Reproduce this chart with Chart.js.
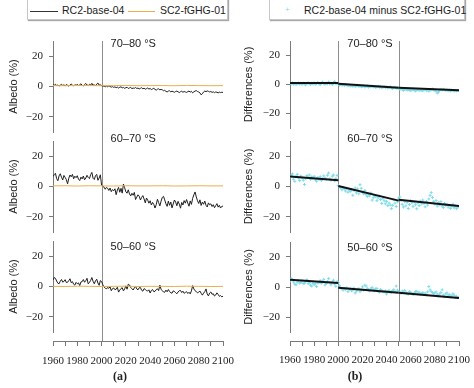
<!DOCTYPE html>
<html lang="en">
<head>
  <meta charset="UTF-8" />
  <title>Albedo - RC2-base-04 vs SC2-fGHG-01</title>
  <script src="https://cdn.jsdelivr.net/npm/chart.js"></script>
  <style>
    body {
      margin: 0;
      background: #fff;
      font-family: "Liberation Sans", Arial, sans-serif;
      color: #222;
    }

    #fig {
      position: relative;
      width: 474px;
      height: 388px;
      overflow: hidden;
    }

    #fig canvas, .legend, .tag {
      position: absolute;
    }

    .legend {
      top: -2px;
      height: 20px;
      border: 1px solid #c6c6c6;
      box-shadow: 1px 1px 1px #a8a8a8;
      font-size: 10.5px;
      line-height: 13px;
    }

    .legend span {
      position: absolute;
      top: 5px;
      white-space: nowrap;
    }

    .legend i {
      position: absolute;
      top: 12px;
      height: 0;
      border-top: 1px solid;
    }

    .tag {
      top: 369px;
      width: 40px;
      text-align: center;
      font: bold 12px "Liberation Serif", serif;
    }
  </style>
</head>
<body>
  <div id="fig">
    <div class="legend" style="left:27px; width:199px;">
      <i style="left:2px; width:28px; border-color:#333;"></i>
      <span style="left:34px;">RC2-base-04</span>
      <i style="left:100px; width:27px; border-color:#e8b04c;"></i>
      <span style="left:132px;">SC2-fGHG-01</span>
    </div>
    <div class="legend" style="left:269px; width:194px;">
      <span style="left:15px; top:4px; color:#7fdcea; font-size:8px;">+</span>
      <span style="left:34px;">RC2-base-04 minus SC2-fGHG-01</span>
    </div>

    <canvas id="a1" width="234" height="111" style="left:0; top:22px;"></canvas>
    <canvas id="a2" width="234" height="104" style="left:0; top:133px;"></canvas>
    <canvas id="a3" width="234" height="151" style="left:0; top:237px;"></canvas>
    <canvas id="b1" width="240" height="111" style="left:234px; top:22px;"></canvas>
    <canvas id="b2" width="240" height="104" style="left:234px; top:133px;"></canvas>
    <canvas id="b3" width="240" height="151" style="left:234px; top:237px;"></canvas>

    <div class="tag" style="left:100px;">(a)</div>
    <div class="tag" style="left:335px;">(b)</div>
  </div>

  <script>
    // anos 1960..2100, um valor por ano
    const years = Array.from({ length: 141 }, (_, i) => 1960 + i);
    const xTicks = [1960, 1970, 1980, 1990, 2000, 2010, 2020, 2030, 2040, 2050, 2060, 2070, 2080, 2090, 2100];
    const xLabels = [1960, 1980, 2000, 2020, 2040, 2060, 2080, 2100];
    const yTicks = [-20, 0, 20];
    const regions = ['70\u201380 \u00b0S', '60\u201370 \u00b0S', '50\u201360 \u00b0S'];

    // RC2-base-04 (anomalia de albedo, %)
    const rc2_70_80 = [
      1.2, 0.8, 1.5, 0.6, 1.0, 0.3, 0.9, 1.4, 0.7, 1.1,
      0.5, 1.3, 0.8, 0.2, 1.0, 1.6, 0.9, 0.4, 1.2, 0.7,
      1.5, 0.6, 1.1, 1.8, 0.8, 0.3, 1.3, 2.0, 1.0, 0.6,
      1.4, 0.9, 2.1, 0.8, 1.2, 0.4, 1.6, 2.3, 0.9, 1.1,
      0.6, 0.1, 0.4, -0.2, 0.3, -0.3, 0.5, 0.0, -0.4, -0.1,
      -0.6, -0.2, -0.8, -0.4, -1.0, -0.5, -0.2, -0.9, -0.6, -1.2,
      -0.8, -0.5, -1.3, -0.9, -0.6, -1.4, -1.0, -1.2, -0.7, -1.3,
      -1.0, -1.6, -1.2, -0.8, -1.5, -1.1, -1.8, -1.4, -1.0, -1.7,
      -1.3, -2.0, -1.6, -1.2, -1.9, -2.4, -1.8, -1.5, -2.2, -1.9,
      -2.2, -2.8, -2.5, -3.2, -3.6, -3.0, -2.8, -3.5, -3.1, -3.4,
      -3.8, -3.3, -3.0, -3.5, -4.0, -3.4, -3.1, -3.8, -3.3, -3.6,
      -3.9, -3.4, -3.0, -3.7, -3.2, -4.2, -3.5, -3.0, -2.7, -3.3,
      -3.6, -4.2, -5.5, -4.8, -3.6, -3.0, -3.4, -2.9, -3.2, -3.6,
      -3.3, -3.9, -3.5, -4.1, -3.6, -3.8, -4.2, -3.7, -4.0, -3.8,
      -3.9
    ];
    const rc2_60_70 = [
      6.5, 7.8, 8.7, 5.2, 3.8, 7.0, 8.4, 6.1, 4.3, 7.3,
      6.0, 4.5, 1.7, 5.5, 7.6, 6.4, 8.0, 5.1, 6.8, 5.8,
      7.1, 4.8, 3.9, 6.2, 5.0, 6.9, 4.4, 5.6, 7.4, 6.0,
      5.2, 7.8, 9.3, 5.4, 4.6, 7.2, 8.0, 4.1, 5.6, 7.7,
      1.0, 0.2, -0.4, -1.8, -0.6, -1.2, -2.6, -1.0, -3.4, -2.0,
      -2.8, -1.5, -5.4, -2.3, -0.6, -3.8, -1.2, -4.4, 1.6, -0.8,
      -3.5, -4.4, -2.2, -4.9, -6.2, -4.5, -5.8, -3.9, -8.6, -7.0,
      -5.5, -6.4, -8.9, -7.2, -6.0, -8.2, -10.8, -7.6, -9.0, -11.0,
      -9.4, -12.2, -10.5, -11.8, -14.2, -12.0, -8.4, -10.6, -12.8, -9.7,
      -7.2, -6.5, -8.8, -11.4, -13.1, -9.6, -12.4, -10.2, -14.1, -11.5,
      -8.9, -10.3, -12.7, -9.8, -11.6, -14.3, -10.5, -12.2, -9.3, -11.0,
      -8.6, -10.9, -13.0, -9.5, -11.8, -7.8, -5.5, -3.6, -6.9, -9.4,
      -11.2, -8.8, -12.5, -10.3, -11.7, -9.6, -12.4, -13.5, -10.8, -12.1,
      -11.4, -13.2, -12.0, -14.0, -12.6, -11.3, -13.6, -12.4, -14.2, -13.1,
      -12.9
    ];
    const rc2_50_60 = [
      4.3, 5.9, 5.4, 3.6, 2.2, 1.8, 3.5, 4.6, 2.9, 3.3,
      4.5, 2.6, 2.8, 3.9, 5.1, 2.5, 3.2, 1.5, 0.9, 2.7,
      1.8, 2.4, 0.6, 3.0, 3.2, 4.6, 2.8, 3.9, 5.4, 1.7,
      2.6, 4.0, 5.9, 3.4, 1.8, 3.7, 4.8, 2.3, 0.8, 3.9,
      3.3, 1.2, -0.3, -0.9, -1.7, -0.6, -1.2, -0.2, -2.8, -1.4,
      -1.0, -2.1, -1.8, -0.5, -3.7, -2.4, -1.3, -0.8, -2.9, -1.6,
      0.4, -1.8, 1.5, 1.0, -0.6, -1.5, -2.3, -0.9, 0.0, -1.6,
      -2.2, -0.8, -0.7, -2.5, -3.1, -1.4, -1.9, -2.8, -3.0, -2.2,
      -4.3, -2.6, -2.0, -3.4, -3.2, -2.1, -1.5, -2.7, 0.9, -1.8,
      -2.8, -3.6, -3.8, -2.4, -3.5, -2.0, -3.3, -4.2, -4.4, -2.9,
      -3.2, -4.1, -4.8, -3.6, -2.8, -2.6, -4.0, -3.1, -4.5, -3.9,
      -3.4, -4.6, -3.8, -4.9, -2.9, 0.6, -1.6, -2.8, -3.4, -4.1,
      -3.7, -3.0, -4.5, -5.7, -4.4, -3.4, -1.6, -5.0, -6.2, -4.3,
      -3.6, -5.1, -4.8, -6.3, -5.6, -4.2, -5.2, -6.5, -6.0, -6.8,
      -6.4
    ];

    // SC2-fGHG-01, lido a cada 10 anos
    const sc2Years = [1960, 1970, 1980, 1990, 2000, 2010, 2020, 2030, 2040, 2050, 2060, 2070, 2080, 2090, 2100];
    const sc2_70_80 = [0.6, 0.5, 0.7, 0.6, 0.5, 0.6, 0.7, 0.5, 0.6, 0.6, 0.5, 0.7, 0.6, 0.5, 0.6];
    const sc2_60_70 = [0.4, 0.5, 0.3, 0.5, 0.4, 0.3, 0.5, 0.4, 0.4, 0.5, 0.3, 0.4, 0.5, 0.4, 0.4];
    const sc2_50_60 = [0.1, 0.0, 0.2, 0.1, 0.0, 0.1, 0.2, 0.0, 0.1, 0.1, 0.0, 0.2, 0.1, 0.0, 0.1];

    // RC2-base-04 minus SC2-fGHG-01 (pontos anuais)
    const dif_70_80 = [
      0.8, 0.4, 1.1, 0.2, 0.6, -0.1, 0.5, 1.0, 0.3, 0.7,
      0.1, 0.9, 0.4, -0.2, 0.6, 1.2, 0.5, 0.0, 0.8, 0.3,
      1.1, 0.2, 0.7, 1.4, 0.4, -0.1, 0.9, 1.6, 0.6, 0.2,
      1.0, 0.5, 1.7, 0.4, 0.8, 0.0, 1.2, 1.9, 0.5, 0.7,
      0.2, -0.3, 0.0, -0.6, -0.1, -0.7, 0.1, -0.4, -0.8, -0.5,
      -1.0, -0.6, -1.2, -0.8, -1.4, -0.9, -0.6, -1.3, -1.0, -1.6,
      -1.2, -0.9, -1.7, -1.3, -1.0, -1.8, -1.4, -1.6, -1.1, -1.7,
      -1.4, -2.0, -1.6, -1.2, -1.9, -1.5, -2.2, -1.8, -1.4, -2.1,
      -1.7, -2.4, -2.0, -1.6, -2.3, -2.8, -2.2, -1.9, -2.6, -2.3,
      -2.6, -3.2, -2.9, -3.6, -4.0, -3.4, -3.2, -3.9, -3.5, -3.8,
      -4.2, -3.7, -3.4, -3.9, -4.4, -3.8, -3.5, -4.2, -3.7, -4.0,
      -4.3, -3.8, -3.4, -4.1, -3.6, -4.6, -3.9, -3.4, -3.1, -3.7,
      -4.0, -4.6, -5.9, -5.2, -4.0, -3.4, -3.8, -3.3, -3.6, -4.0,
      -3.7, -4.3, -3.9, -4.5, -4.0, -4.2, -4.6, -4.1, -4.4, -4.2,
      -4.3
    ];
    const dif_60_70 = [
      6.1, 7.4, 8.3, 4.8, 3.4, 6.6, 8.0, 5.7, 3.9, 6.9,
      5.6, 4.1, 1.3, 5.1, 7.2, 6.0, 7.6, 4.7, 6.4, 5.4,
      6.7, 4.4, 3.5, 5.8, 4.6, 6.5, 4.0, 5.2, 7.0, 5.6,
      4.8, 7.4, 8.9, 5.0, 4.2, 6.8, 7.6, 3.7, 5.2, 7.3,
      0.6, -0.2, -0.8, -2.2, -1.0, -1.6, -3.0, -1.4, -3.8, -2.4,
      -3.2, -1.9, -5.8, -2.7, -1.0, -4.2, -1.6, -4.8, 1.2, -1.2,
      -3.9, -4.8, -2.6, -5.3, -6.6, -4.9, -6.2, -4.3, -9.0, -7.4,
      -5.9, -6.8, -9.3, -7.6, -6.4, -8.6, -11.2, -8.0, -9.4, -11.4,
      -9.8, -12.6, -10.9, -12.2, -14.6, -12.4, -8.8, -11.0, -13.2, -10.1,
      -7.6, -6.9, -9.2, -11.8, -13.5, -10.0, -12.8, -10.6, -14.5, -11.9,
      -9.3, -10.7, -13.1, -10.2, -12.0, -14.7, -10.9, -12.6, -9.7, -11.4,
      -9.0, -11.3, -13.4, -9.9, -12.2, -8.2, -5.9, -4.0, -7.3, -9.8,
      -11.6, -9.2, -12.9, -10.7, -12.1, -10.0, -12.8, -13.9, -11.2, -12.5,
      -11.8, -13.6, -12.4, -14.4, -13.0, -11.7, -14.0, -12.8, -14.6, -13.5,
      -13.3
    ];
    const dif_50_60 = [
      4.0, 5.6, 5.1, 3.3, 1.9, 1.5, 3.2, 4.3, 2.6, 3.0,
      4.2, 2.3, 2.5, 3.6, 4.8, 2.2, 2.9, 1.2, 0.6, 2.4,
      1.5, 2.1, 0.3, 2.7, 2.9, 4.3, 2.5, 3.6, 5.1, 1.4,
      2.3, 3.7, 5.6, 3.1, 1.5, 3.4, 4.5, 2.0, 0.5, 3.6,
      3.0, 0.9, -0.6, -1.2, -2.0, -0.9, -1.5, -0.5, -3.1, -1.7,
      -1.3, -2.4, -2.1, -0.8, -4.0, -2.7, -1.6, -1.1, -3.2, -1.9,
      0.1, -2.1, 1.2, 0.7, -0.9, -1.8, -2.6, -1.2, -0.3, -1.9,
      -2.5, -1.1, -1.0, -2.8, -3.4, -1.7, -2.2, -3.1, -3.3, -2.5,
      -4.6, -2.9, -2.3, -3.7, -3.5, -2.4, -1.8, -3.0, 0.6, -2.1,
      -3.1, -3.9, -4.1, -2.7, -3.8, -2.3, -3.6, -4.5, -4.7, -3.2,
      -3.5, -4.4, -5.1, -3.9, -3.1, -2.9, -4.3, -3.4, -4.8, -4.2,
      -3.7, -4.9, -4.1, -5.2, -3.2, 0.3, -1.9, -3.1, -3.7, -4.4,
      -4.0, -3.3, -4.8, -6.0, -4.7, -3.7, -1.9, -5.3, -6.5, -4.6,
      -3.9, -5.4, -5.1, -6.6, -5.9, -4.5, -5.5, -6.8, -6.3, -7.1,
      -6.7
    ];

    // tendencias lineares por periodo: [inicio, fim]
    const trendBreaks = [1960, 2000, 2050, 2100];
    const trend_70_80 = [[1.1, 1.0], [0.6, -2.2], [-2.2, -3.9]];
    const trend_60_70 = [[6.6, 4.2], [0.3, -9.3], [-8.8, -12.8]];
    const trend_50_60 = [[4.8, 2.6], [-0.5, -3.8], [-3.8, -7.3]];

    const xAxisAt = -36;   // eixo x desenhado um pouco abaixo de -30
    const serif = { family: '"Liberation Serif", "DejaVu Serif", serif', size: 11 };
    const sans = { family: '"Liberation Sans", Arial, sans-serif', size: 11 };
    const axisColor = '#7a7a7a';

    function pts(xs, ys) {
      return xs.map((x, i) => ({ x: x, y: ys[i] }));
    }

    // linhas verticais (2000 / 2050) e nome da faixa de latitude
    const divisoes = {
      id: 'divisoes',
      beforeDatasetsDraw(chart, args, opts) {
        const { ctx, chartArea, scales } = chart;
        const top = opts.fromTop ? 0 : chartArea.top;
        const bottom = opts.toAxis ? scales.y.getPixelForValue(xAxisAt) : chart.height;
        ctx.save();
        ctx.strokeStyle = '#8e8e8e';
        ctx.lineWidth = 1;
        opts.years.forEach(yr => {
          const x = Math.round(scales.x.getPixelForValue(yr)) + 0.5;
          ctx.beginPath();
          ctx.moveTo(x, top);
          ctx.lineTo(x, bottom);
          ctx.stroke();
        });
        ctx.fillStyle = '#222';
        ctx.font = '11px "Liberation Sans"';
        ctx.textBaseline = 'middle';
        ctx.fillText(opts.label, scales.x.getPixelForValue(2000) + 9, chartArea.top + opts.labelDy);
        ctx.restore();
      }
    };

    function criarPainel(id, cfg) {
      return new Chart(document.getElementById(id), {
        type: 'line',
        data: { datasets: cfg.datasets },
        plugins: [divisoes],
        options: {
          responsive: false,
          animation: false,
          events: [],
          layout: { padding: { left: 0, right: cfg.right, top: cfg.top, bottom: cfg.bottom } },
          plugins: {
            legend: { display: false },
            tooltip: { enabled: false },
            divisoes: {
              years: cfg.lines,
              label: cfg.label,
              labelDy: cfg.labelDy,
              fromTop: cfg.fromTop,
              toAxis: cfg.isBottom
            }
          },
          scales: {
            x: {
              type: 'linear',
              min: 1960,
              max: 2100,
              display: cfg.isBottom,
              position: cfg.isBottom ? { y: xAxisAt } : 'bottom',
              afterBuildTicks: s => { s.ticks = xTicks.map(v => ({ value: v })); },
              afterFit: s => { s.paddingLeft = 0; s.paddingRight = 0; },
              ticks: {
                font: serif,
                color: '#222',
                padding: 9,
                maxRotation: 0,
                autoSkip: false,
                callback: v => xLabels.includes(v) ? String(v) : ''
              },
              grid: { drawOnChartArea: false, tickLength: 4, color: axisColor },
              border: { color: axisColor }
            },
            y: {
              min: -30,
              max: 30,
              afterBuildTicks: s => { s.ticks = yTicks.map(v => ({ value: v })); },
              afterFit: s => { s.width = cfg.yWidth; s.paddingTop = 0; s.paddingBottom = 0; },
              ticks: {
                font: serif,
                color: '#222',
                padding: 6,
                callback: v => String(v).replace('-', '\u2212')
              },
              grid: { drawOnChartArea: false, tickLength: 4, color: axisColor },
              border: { color: axisColor },
              title: {
                display: true,
                text: cfg.yTitle,
                font: sans,
                color: '#222',
                padding: { top: cfg.titlePad, bottom: 0 }
              }
            }
          }
        }
      });
    }

    function linhasAlbedo(rc2, sc2) {
      return [
        {
          data: pts(sc2Years, sc2),
          borderColor: '#e8b04c',
          borderWidth: 1,
          pointRadius: 0,
          tension: 0
        },
        {
          data: pts(years, rc2),
          borderColor: '#1e1e1e',
          borderWidth: 1,
          pointRadius: 0,
          tension: 0
        }
      ];
    }

    function linhasDiferenca(dif, trend) {
      const segs = trend.map((t, i) => ({
        data: pts([trendBreaks[i], trendBreaks[i + 1]], t),
        borderColor: '#111',
        borderWidth: 2,
        pointRadius: 0
      }));
      return segs.concat([{
        data: pts(years, dif),
        showLine: false,
        pointStyle: 'cross',
        pointRadius: 1.5,
        borderWidth: 1,
        borderColor: '#7fdcea',
        backgroundColor: '#7fdcea'
      }]);
    }

    const rows = [
      { rc2: rc2_70_80, sc2: sc2_70_80, dif: dif_70_80, trend: trend_70_80, top: 19, bottom: 1, labelDy: 3, fromTop: false, isBottom: false },
      { rc2: rc2_60_70, sc2: sc2_60_70, dif: dif_60_70, trend: trend_60_70, top: 8, bottom: 5, labelDy: -2, fromTop: true, isBottom: false },
      { rc2: rc2_50_60, sc2: sc2_50_60, dif: dif_50_60, trend: trend_50_60, top: 4, bottom: 56, labelDy: 6, fromTop: true, isBottom: true }
    ];

    rows.forEach((r, i) => {
      criarPainel('a' + (i + 1), {
        datasets: linhasAlbedo(r.rc2, r.sc2),
        lines: [2000],
        label: regions[i],
        labelDy: r.labelDy,
        fromTop: r.fromTop,
        isBottom: r.isBottom,
        top: r.top,
        bottom: r.bottom,
        right: 11,
        yWidth: 53,
        yTitle: 'Albedo (%)',
        titlePad: 7
      });
      criarPainel('b' + (i + 1), {
        datasets: linhasDiferenca(r.dif, r.trend),
        lines: [2000, 2050],
        label: regions[i],
        labelDy: r.labelDy,
        fromTop: r.fromTop,
        isBottom: r.isBottom,
        top: r.top,
        bottom: r.bottom,
        right: 15,
        yWidth: 56,
        yTitle: 'Differences (%)',
        titlePad: 8
      });
    });
  </script>
</body>
</html>
